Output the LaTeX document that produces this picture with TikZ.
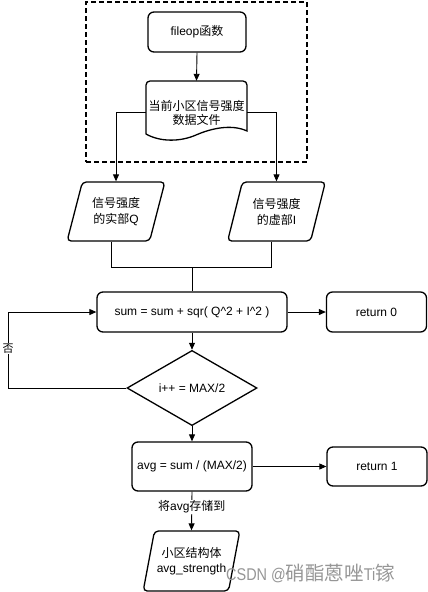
\documentclass[tikz,border=0pt]{standalone}
\usepackage{fontspec}
\setmainfont{Liberation Sans}
\newfontfamily\cjk{Noto Sans CJK SC}
\newfontfamily\wmfont[FakeStretch=0.85]{Liberation Sans}
\usetikzlibrary{shapes.geometric,arrows.meta}
\definecolor{wmark}{RGB}{150,150,150}
\begin{document}
\begin{tikzpicture}[x=1pt,y=-1pt,
  every node/.style={font=\fontsize{12}{15}\selectfont},
  box/.style={draw,line width=1.3pt,rounded corners=6pt,inner sep=0pt,align=center},
  para/.style={draw,line width=1.3pt,rounded corners=4pt,trapezium,
    trapezium left angle=69,trapezium right angle=111,trapezium stretches=true,
    inner sep=0pt,align=center,minimum width=98pt,minimum height=59pt},
  decision/.style={draw,line width=1.3pt,diamond,inner sep=0pt,align=center},
  conn/.style={line width=0.9pt},
  arr/.style={conn,-{Triangle[length=7pt,width=6pt]}},
  lbl/.style={fill=white,inner sep=1pt}]
\useasboundingbox (0,0) rectangle (428,592);
\fill[white] (0,0) rectangle (428,592);

% group box
\node[draw,line width=1.5pt,dash pattern=on 5pt off 3pt,minimum width=221pt,minimum height=160pt,inner sep=0pt] (grp) at (196.5,82) {};

\node[box,minimum width=98pt,minimum height=40pt] (fileop) at (197,32) {fileop{\cjk 函数}};

% document shape
\node[inner sep=0pt,minimum width=101pt,minimum height=62pt,align=center,text depth=0pt] (doc) at (196.5,112) {{\cjk 当前小区信号强度}\\[-1pt]{\cjk 数据文件}};
\draw[line width=1.3pt] (146,134) [rounded corners=4pt]-- (146,81) -- (247,81) [sharp corners]-- (247,131)
  .. controls (232,124) and (212,128) .. (196,135)
  .. controls (180,142) and (160,142) .. (146,134) -- cycle;

\node[para] (lp) at (116,211.5) {{\cjk 信号强度}\\[1pt]{\cjk 的实部}Q};
\node[para] (rp) at (276.5,211.5) {{\cjk 信号强度}\\[1pt]{\cjk 的虚部}I};

\coordinate (j) at (192,267);
\node[box,minimum width=190pt,minimum height=40pt] (sum) at (192,312) {sum = sum + sqr( Q\^{}2 + I\^{}2 )};
\node[box,minimum width=100pt,minimum height=40pt] (r0) at (376.5,312) {return 0};
\node[decision,minimum width=130pt,minimum height=54pt] (dia) at (192,388) {i++ = MAX/2};
\coordinate (loop) at (8,388);
\node[box,minimum width=120pt,minimum height=49pt] (avg) at (192,466.5) {avg = sum / (MAX/2)};
\node[box,minimum width=100pt,minimum height=39pt] (r1) at (377,466.5) {return 1};
\node[para,minimum width=97pt,minimum height=60pt] (bp) at (191.5,561) {{\cjk 小区结构体}\\avg\_strength};

% connectors
\draw[arr] (fileop.south) -- (doc.north);
\draw[arr] (doc.west) -| (lp.north);
\draw[arr] (doc.east) -| (rp.north);
\draw[conn] ([xshift=-5pt]lp.south) |- (j);
\draw[conn] ([xshift=-5.5pt]rp.south) |- (j);
\draw[conn] (j) -- (sum.north);
\draw[arr] (sum.east) -- (r0.west);
\draw[arr] (sum.south) -- (dia.north);
\draw[arr] (dia.west) -- (loop) |- node[lbl,pos=0.26,font=\fontsize{11}{13}\selectfont\cjk] {否} (sum.west);
\draw[arr] (dia.south) -- (avg.north);
\draw[arr] (avg.east) -- (r1.west);
\draw[arr] (avg.south) -- node[lbl,pos=0.4] {{\cjk 将}avg{\cjk 存储到}} (bp.north);

% watermark
\node[text=wmark,inner sep=0pt,anchor=west] (wm) at (226,573) {\wmfont\fontsize{17}{18}\selectfont CSDN @{\cjk\fontsize{19.5}{20}\selectfont 硝酯蒽唑}Ti{\cjk\fontsize{19.5}{20}\selectfont 镓}};
\end{tikzpicture}
\end{document}
